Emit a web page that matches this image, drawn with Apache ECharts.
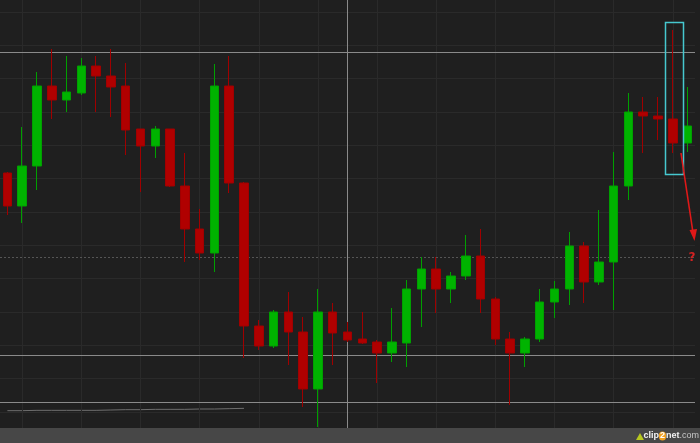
<!DOCTYPE html>
<html>
<head>
<meta charset="utf-8">
<script src="https://cdn.jsdelivr.net/npm/echarts@6/dist/echarts.min.js"></script>
<style>
html,body{margin:0;padding:0;background:#1f1f1f;}
#chart{width:700px;height:443px;}
</style>
</head>
<body>
<div id="chart"></div>
<script>
// Bars (categories)
var categories = ['1','2','3','4','5','6','7','8','9','10','11','12','13','14','15','16','17','18','19','20',
  '21','22','23','24','25','26','27','28','29','30','31','32','33','34','35','36','37','38','39','40',
  '41','42','43','44','45','46','47'];

// OHLC (price units)
var opens  = [171.7,161.8,173.8,197.8,193.6,195.7,203.8,200.8,197.8,184.9,179.8,184.9,167.8,154.9,147.7,197.8,168.7,125.8,119.8,130.0,
              124.0,106.9,130.0,124.0,121.9,121.0,117.7,120.7,136.9,142.9,136.9,140.8,146.8,133.9,121.9,117.7,121.9,133.0,136.9,149.8,
              139.0,145.0,167.8,190.0,188.8,187.9,180.7];
var closes = [161.8,173.8,197.8,193.6,196.0,203.8,200.8,197.5,184.6,179.8,184.9,167.8,154.9,147.7,197.8,168.7,125.8,119.8,130.0,124.0,
              106.9,130.0,123.7,121.6,120.7,117.7,121.0,136.9,142.9,136.9,140.8,146.8,133.9,121.9,117.7,121.9,133.0,136.9,149.8,139.0,
              145.0,167.8,190.0,188.8,187.9,180.7,185.8];
var lows   = [159.1,156.7,166.6,187.9,190.0,195.1,190.0,188.5,177.1,166.0,176.2,167.5,145.0,145.6,142.0,165.7,116.2,118.6,119.2,114.1,
              101.5,95.5,114.1,121.0,120.4,108.7,115.0,113.5,125.5,129.7,132.7,139.6,129.7,120.1,102.1,113.5,121.0,128.2,132.1,132.7,
              138.1,130.6,163.6,177.7,181.6,177.7,178.0];
var highs  = [172.0,185.5,202.0,208.9,206.8,206.2,206.8,208.9,204.7,184.9,185.8,184.9,177.7,160.9,204.4,206.8,169.0,127.6,130.6,136.0,
              128.5,136.9,132.7,127.0,130.0,121.6,131.2,139.6,146.5,146.5,142.0,153.1,154.9,134.5,124.0,122.5,136.9,139.3,154.0,151.0,
              160.6,178.0,195.7,194.5,194.5,214.6,197.5];

// lower indicator line (first bars only)
var indicator = [100.4,100.4,100.5,100.5,100.5,100.5,100.5,100.6,100.7,100.7,100.8,100.8,100.8,100.9,100.9,101.0,101.1];

// grid levels
var minorLevels = [100,110,120,130,140,150,160,170,180,190,200,210,220];
var majorLevels = [208.0,117.1,103.0];
var dottedLevel = 146.5;
var minorBars = ['2','6','10','14','18','22','26','30','34','38','42','46'];
var majorBar = '24';

var ohlc = categories.map(function(c,i){ return [opens[i], closes[i], lows[i], highs[i]]; });

var mlData = [];
minorLevels.forEach(function(v){ mlData.push({yAxis:v, lineStyle:{color:'#2a2a2a',width:1,type:'solid'}}); });
minorBars.forEach(function(v){ mlData.push({xAxis:v, lineStyle:{color:'#2a2a2a',width:1,type:'solid'}}); });
majorLevels.forEach(function(v){ mlData.push({yAxis:v, lineStyle:{color:'#8a8a8a',width:1,type:'solid'}}); });
mlData.push({xAxis:majorBar, lineStyle:{color:'#8a8a8a',width:1,type:'solid'}});
mlData.push({yAxis:dottedLevel, lineStyle:{color:'#555555',width:1,type:[2,2]}});

var chart = echarts.init(document.getElementById('chart'), null, {renderer:'canvas'});
chart.setOption({
  animation:false,
  backgroundColor:'#1f1f1f',
  grid:{left:0,right:5,top:0,bottom:0,containLabel:false},
  xAxis:{type:'category',data:categories,boundaryGap:true,
    axisLine:{show:false},axisTick:{show:false},axisLabel:{show:false},splitLine:{show:false}},
  yAxis:{type:'value',min:90.7,max:223.6,scale:true,
    axisLine:{show:false},axisTick:{show:false},axisLabel:{show:false},splitLine:{show:false}},
  series:[
    {type:'line',data:indicator,z:1,symbol:'none',silent:true,
      lineStyle:{color:'#6e6e6e',width:1},
      markLine:{silent:true,symbol:['none','none'],label:{show:false},data:mlData,animation:false}},
    {type:'candlestick',data:ohlc,z:5,barWidth:9,
      itemStyle:{color:'#00b300',color0:'#b00000',borderColor:'#00a000',borderColor0:'#a00000',borderWidth:1}}
  ],
  graphic:[
    {type:'rect',z:100,shape:{x:665.5,y:22.5,width:18,height:152},style:{fill:'none',stroke:'#46c8cf',lineWidth:1.5}},
    {type:'line',z:100,shape:{x1:681,y1:153,x2:693.5,y2:236},style:{stroke:'#e01818',lineWidth:1.6}},
    {type:'polygon',z:100,shape:{points:[[694.5,241],[689.5,230],[697,229]]},style:{fill:'#e01818'}},
    {type:'text',z:100,style:{x:692,y:258,text:'?',fill:'#d42222',font:'bold 12px "DejaVu Sans"',align:'center',verticalAlign:'middle'}},
    {type:'rect',z:100,shape:{x:0,y:428,width:700,height:15},style:{fill:'#474747'}},
    {type:'polygon',z:101,shape:{points:[[636,440],[640,433],[644,440]]},style:{fill:'#b8c820'}},
    {type:'text',z:101,style:{x:699,y:436,align:'right',verticalAlign:'middle',
      text:'{w|clip}{o|2}{w|net}{g|.com}',
      rich:{
        w:{fill:'#f2f2f2',font:'bold 9px "Liberation Sans"'},
        o:{fill:'#ffffff',font:'bold 9px "Liberation Sans"',backgroundColor:'#f0a020',borderRadius:5,padding:[0,1]},
        g:{fill:'#c8c8c8',font:'9px "Liberation Sans"'}
      }}}
  ]
});
</script>
</body>
</html>
